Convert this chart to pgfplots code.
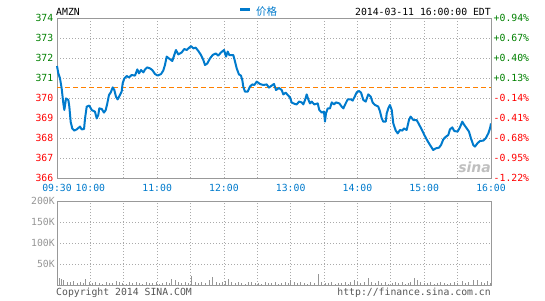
\documentclass[border=0pt]{standalone}
\usepackage{fontspec}
\setmainfont{DejaVu Sans Mono}
\newfontfamily\cjk{Noto Sans CJK SC}
\newfontfamily\wm{DejaVu Sans}
\usepackage{pgfplots}
\pgfplotsset{compat=1.18}
\definecolor{priceblue}{RGB}{0,122,204}
\definecolor{upgreen}{RGB}{0,128,0}
\definecolor{downred}{RGB}{255,0,0}
\definecolor{gridgray}{RGB}{170,170,170}
\definecolor{framegray}{RGB}{153,153,153}
\definecolor{prevorange}{RGB}{255,128,0}
\definecolor{volgray}{RGB}{150,150,150}
\definecolor{foot}{RGB}{85,85,85}
\begin{document}
\begin{tikzpicture}[x=1pt,y=1pt,font=\fontsize{9.8}{11}\selectfont]
\path (0,0) rectangle (545,-300);
\pgfplotsset{
  common/.style={
    scale only axis, width=434pt,
    xmin=0, xmax=390,
    axis line style={framegray, line width=1pt},
    major tick length=0pt,
    tick style={draw=none},
    grid=major,
    grid style={gridgray, line width=0.8pt, dash pattern=on 1pt off 2pt},
  }
}
% ---------- price panel ----------
\begin{axis}[common,
  at={(57pt,-178pt)}, anchor=south west, height=160pt,
  ymin=366, ymax=374,
  ytick={366,367,368,369,370,371,372,373,374},
  yticklabels={\textcolor{downred}{366},\textcolor{downred}{367},\textcolor{downred}{368},\textcolor{downred}{369},\textcolor{downred}{370},\textcolor{upgreen}{371},\textcolor{upgreen}{372},\textcolor{upgreen}{373},\textcolor{upgreen}{374}},
  xtick={0,30,60,90,120,150,180,210,240,270,300,330,360,390},
  xticklabels={09:30,10:00,,11:00,,12:00,,13:00,,14:00,,15:00,,16:00},
  xticklabel style={text=priceblue, inner sep=0pt, yshift=-6pt},
  yticklabel style={inner sep=0pt, xshift=-3.5pt},
  clip=false,
]
\addplot[draw=prevorange, mark=none, line width=1.5pt, dash pattern=on 5pt off 3pt] table {
x y
0 370.52
390 370.52
};
\addplot[color=priceblue, mark=none, line width=2pt, line join=round] coordinates {
(0,371.6) (1.2,371.23) (2.7,370.98) (4.2,370.48) (5.7,369.73) (6.6,369.4) (8.1,369.98) (10.2,369.9)
(11.1,369.56) (12.3,368.8) (13.7,368.48) (15.5,368.37) (17.7,368.43) (20.7,368.57) (22.2,368.43) (24.3,368.45)
(25.2,368.98) (26.7,369.57) (29.0,369.62) (31.2,369.4) (34.1,369.32) (35.7,368.98) (37.1,369.15) (38.0,369.48)
(40.2,369.45) (42.2,369.27) (43.8,369.4) (45.2,369.73) (46.7,370.15) (48.3,370.28) (50.1,370.53) (51.5,370.4)
(53.0,370.07) (54.5,369.93) (56.6,370.15) (58.1,370.32) (59.0,370.73) (60.5,370.98) (62.6,371.1) (64.7,371.03)
(67.1,371.15) (70.1,371.12) (72.2,371.43) (73.7,371.23) (75.5,371.4) (77.6,371.28) (79.1,371.43) (81.1,371.53)
(83.6,371.48) (85.6,371.4) (88.1,371.2) (90.5,371.12) (93.5,371.2) (95.5,371.37) (97.0,371.65) (98.6,372.07)
(100.6,371.98) (103.6,371.85) (105.4,372.15) (106.9,372.4) (109.0,372.18) (112.1,372.28) (114.4,372.45) (116.6,372.4)
(120.4,372.6) (122.5,372.48) (124.6,372.52) (127.0,372.35) (129.4,372.15) (131.5,371.9) (133.0,371.65) (135.1,371.73)
(137.5,371.98) (139.9,372.15) (142.6,372.23) (144.9,372.12) (147.4,372.28) (150.1,372.4) (151.9,372.07) (153.4,372.32)
(154.8,372.15) (158.4,372.15) (160.0,371.82) (161.5,371.48) (163.5,371.18) (165.3,371.12) (166.5,370.9) (167.4,370.57)
(168.9,370.32) (171.4,370.32) (173.4,370.57) (175.5,370.68) (177.3,370.65) (179.5,370.82) (182.4,370.7) (185.4,370.65)
(188.4,370.68) (190.5,370.52) (192.9,370.62) (195.0,370.7) (196.8,370.4) (199.5,370.5) (201.9,370.4) (203.4,370.18)
(205.5,370.27) (207.3,370.15) (209.4,370.03) (210.9,369.77) (213.9,369.7) (215.4,369.68) (217.5,369.82) (219.9,369.78)
(221.3,369.68) (222.9,369.9) (224.4,370.18) (225.8,369.93) (227.3,369.73) (228.9,369.82) (231.2,369.68) (234.3,369.73)
(235.7,369.4) (237.9,369.27) (239.9,369.32) (240.8,368.82) (241.7,369.23) (243.3,369.48) (245.3,369.48) (246.9,369.78)
(248.9,369.68) (250.7,369.78) (253.7,369.73) (255.8,369.57) (257.3,369.48) (259.4,369.73) (261.2,369.93) (264.2,369.93)
(265.7,369.87) (267.8,370.1) (269.3,370.28) (271.4,370.35) (273.2,370.27) (275.3,369.9) (277.4,369.82) (279.7,370.18)
(281.9,370.07) (283.7,369.77) (285.8,369.65) (288.7,369.57) (290.3,369.32) (291.8,368.98) (293.2,368.82) (295.4,368.82)
(296.3,369.23) (297.7,369.48) (299.2,369.65) (300.8,369.4) (302.2,368.73) (304.4,368.37) (306.2,368.23) (308.2,368.4)
(310.3,368.37) (311.8,368.48) (314.2,368.4) (316.3,368.9) (317.8,369.07) (320.2,368.9) (323.2,368.9) (325.6,368.65)
(327.7,368.43) (330.1,368.15) (332.8,367.87) (335.2,367.65) (338.1,367.4) (340.3,367.48) (343.3,367.52) (345.1,367.65)
(347.1,367.93) (349.6,368.07) (351.6,368.15) (353.1,368.43) (355.2,368.53) (357.0,368.35) (360.0,368.32) (362.1,368.53)
(364.2,368.82) (366.0,368.65) (368.2,368.48) (370.2,368.32) (372.0,367.98) (374.1,367.65) (375.6,367.57) (377.7,367.73)
(380.1,367.85) (383.1,367.87) (385.2,367.98) (387.6,368.23) (389.1,368.48) (390,368.73)
};
\end{axis}
% ---------- right percentage labels ----------
\begin{axis}[
  at={(57pt,-178pt)}, anchor=south west, scale only axis, width=434pt, height=160pt,
  xmin=0, xmax=390, ymin=366, ymax=374,
  axis x line=none, axis y line*=right,
  axis line style={framegray, line width=1pt},
  major tick length=0pt, tick style={draw=none},
  ytick={366,367,368,369,370,371,372,373,374},
  yticklabels={\textcolor{downred}{-1.22\%},\textcolor{downred}{-0.95\%},\textcolor{downred}{-0.68\%},\textcolor{downred}{-0.41\%},\textcolor{downred}{-0.14\%},\textcolor{upgreen}{+0.13\%},\textcolor{upgreen}{+0.40\%},\textcolor{upgreen}{+0.67\%},\textcolor{upgreen}{+0.94\%}},
  yticklabel style={inner sep=0pt, xshift=2.5pt},
]
\end{axis}
% ---------- volume panel ----------
\begin{axis}[common,
  at={(57pt,-285pt)}, anchor=south west, height=84pt,
  ymin=0, ymax=200,
  ytick={50,100,150,200},
  yticklabels={50K,100K,150K,200K},
  yticklabel style={text=volgray, inner sep=0pt, xshift=-2pt},
  xtick={0,30,60,90,120,150,180,210,240,270,300,330,360,390},
  xticklabels={},
]
\addplot[color=volgray, line width=0.9pt, ycomb, mark=none] coordinates {
(0.5,44) (2,17) (4,15) (6,12) (9,8) (12,6) (15,9) (18,4) (21,7) (24,5) (26,15) (29,6) (32,4) (35,8)
(38,5) (41,3) (44,7) (47,5) (50,4) (53,9) (56,6) (59,5) (62,3) (65,7) (68,4) (71,6) (74,5) (77,3)
(80,8) (83,5) (86,4) (89,6) (92,3) (95,5) (98,7) (101,4) (103,15) (106,12) (109,6) (112,4) (115,8) (118,5)
(121,22) (124,6) (127,4) (130,7) (133,5) (137,12) (140,19) (143,7) (146,4) (149,6) (151,9) (154,15) (157,6) (160,4)
(163,7) (166,5) (169,3) (172,6) (175,8) (178,4) (181,5) (184,3) (187,7) (190,5) (193,4) (196,6) (199,3) (202,5)
(205,7) (208,4) (210,11) (213,6) (216,4) (219,8) (222,5) (225,3) (228,6) (231,4) (235,27) (238,6) (241,4) (244,5)
(247,7) (250,3) (253,5) (256,4) (259,6) (262,3) (264,7) (267,13) (270,6) (273,4) (276,8) (280,16) (283,7) (286,5)
(289,9) (292,4) (295,6) (298,3) (301,5) (304,7) (307,4) (310,6) (313,3) (316,5) (318,7) (321,17) (324,12) (327,8)
(330,5) (333,4) (336,6) (339,3) (342,5) (345,7) (348,4) (351,3) (354,5) (357,6) (360,4) (364,10) (367,5) (370,7)
(374,12) (378,13) (381,6) (384,4) (387,10) (389.5,5)
};
\end{axis}
% ---------- header and footer texts ----------
\node[anchor=base west, inner sep=0pt] at (56,-15) {AMZN};
\fill[priceblue] (240,-7.5) rectangle (250,-10.5);
\node[anchor=base west, inner sep=0pt, text=priceblue, font=\cjk\fontsize{10.5}{12}\selectfont] at (256,-15) {价格};
\node[anchor=base east, inner sep=0pt] at (491,-15) {2014-03-11 16:00:00 EDT};
\node[anchor=base west, inner sep=0pt, text=foot] at (56,-295) {Copyright 2014 SINA.COM};
\node[anchor=base east, inner sep=0pt, text=foot] at (491,-295) {http://finance.sina.com.cn};
\node[anchor=base east, inner sep=0pt, text=black!25, font=\wm\bfseries\itshape\fontsize{14}{14}\selectfont] at (491,-172) {sina};
\end{tikzpicture}
\end{document}
